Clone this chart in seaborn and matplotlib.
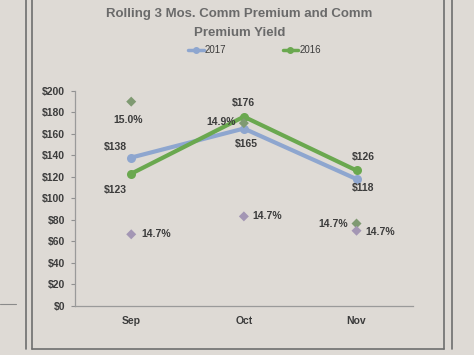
import matplotlib
matplotlib.use("Agg")
import matplotlib.pyplot as plt
from matplotlib.lines import Line2D
import pandas as pd
import seaborn as sns

# chart values
months = ['Sep', 'Oct', 'Nov']
premium_2017 = [138, 165, 118]
premium_2016 = [123, 176, 126]
# yield markers sit on a hidden secondary axis
yield_2016 = [15.07, 15.01, 14.73]
yield_2017 = [14.70, 14.75, 14.71]
yield_2016_labels = ['15.0%', '14.9%', '14.7%']
yield_2017_labels = ['14.7%', '14.7%', '14.7%']
y_ticks = list(range(0, 201, 20))

BG = '#dedad5'
TXT = '#3c3c3c'
BLUE = '#8ea6cf'
GREEN = '#6aa84f'

sns.set_theme(style='white')
plt.rcParams['font.family'] = ['Liberation Sans', 'DejaVu Sans']

df = pd.DataFrame({
    'month': months * 2,
    'premium': premium_2017 + premium_2016,
    'year': ['2017'] * 3 + ['2016'] * 3,
})

fig = plt.figure(figsize=(4.74, 3.55), dpi=100, facecolor=BG)
ax = fig.add_axes([0.158, 0.138, 0.713, 0.606])
ax.set_facecolor(BG)

sns.lineplot(data=df, x='month', y='premium', hue='year', hue_order=['2017', '2016'],
             palette={'2017': BLUE, '2016': GREEN}, marker='o', markersize=6.5,
             markeredgewidth=0, linewidth=3, sort=False, legend=False, ax=ax)

ax.set_xlim(-0.5, 2.5)
ax.set_ylim(0, 200)
ax.set_yticks(y_ticks)
ax.set_yticklabels([f'${v}' for v in y_ticks])
ax.set_xticks([-0.5, 0.5, 1.5, 2.5])
ax.set_xticklabels([])
ax.set_xticks(range(len(months)), minor=True)
ax.set_xticklabels(months, minor=True)
ax.tick_params(axis='x', which='major', direction='inout', length=5, color='#909090', width=0.8)
ax.tick_params(axis='x', which='minor', length=0, pad=7, labelsize=7.5, labelcolor=TXT)
ax.tick_params(axis='y', direction='out', length=3, color='#909090', width=0.8,
               labelsize=7.5, labelcolor=TXT, pad=4)
for lbl in ax.get_xticklabels(minor=True) + ax.get_yticklabels():
    lbl.set_fontweight('bold')
ax.set_xlabel('')
ax.set_ylabel('')
for side in ['top', 'right']:
    ax.spines[side].set_visible(False)
for side in ['left', 'bottom']:
    ax.spines[side].set_color('#9a9a9a')
    ax.spines[side].set_linewidth(0.9)

# premium data labels
prem_offsets_2017 = [(-16, 11), (2, -15), (7, -9)]
prem_offsets_2016 = [(-16, -16), (0, 14), (7, 13)]
for vals, offs in [(premium_2017, prem_offsets_2017), (premium_2016, prem_offsets_2016)]:
    for i, (v, off) in enumerate(zip(vals, offs)):
        ax.annotate(f'${v}', (i, v), xytext=off, textcoords='offset pixels',
                    ha='center', va='center', fontsize=7.5, color=TXT, fontweight='bold')

# yield markers on the secondary axis
ax2 = ax.twinx()
ax2.set_ylim(14.5, 15.1)
ax2.axis('off')
ydf = pd.DataFrame({'month': months * 2, 'yield': yield_2016 + yield_2017,
                    'series': ['2016'] * 3 + ['2017'] * 3})
sns.scatterplot(data=ydf, x='month', y='yield', hue='series',
                palette={'2016': '#7f9a72', '2017': '#a396b4'}, marker='D', s=26,
                linewidth=0, legend=False, ax=ax2)
ax2.set_xlim(-0.5, 2.5)

yld_offsets_2016 = [((-3, -18), 'center'), ((-8, 1), 'right'), ((-9, 0), 'right')]
yld_offsets_2017 = [((10, 0), 'left'), ((9, 0), 'left'), ((9, -1), 'left')]
for vals, labels, offs in [(yield_2016, yield_2016_labels, yld_offsets_2016),
                           (yield_2017, yield_2017_labels, yld_offsets_2017)]:
    for i, (v, t, (off, ha)) in enumerate(zip(vals, labels, offs)):
        ax2.annotate(t, (i, v), xytext=off, textcoords='offset pixels',
                     ha=ha, va='center', fontsize=7.5, color=TXT, fontweight='bold')

fig.text(0.505, 0.960, 'Rolling 3 Mos. Comm Premium and Comm', ha='center', va='center',
         fontsize=9.5, fontweight='bold', color='#6a6a6a')
fig.text(0.505, 0.906, 'Premium Yield', ha='center', va='center',
         fontsize=9.5, fontweight='bold', color='#6a6a6a')

handles = [Line2D([], [], color=BLUE, lw=2.5, marker='o', ms=4),
           Line2D([], [], color=GREEN, lw=2.5, marker='o', ms=4)]
leg = fig.legend(handles, ['2017', '2016'], loc='center', bbox_to_anchor=(0.537, 0.858),
                 ncol=2, frameon=False, fontsize=7, handlelength=1.6, handletextpad=0.1,
                 columnspacing=5.8)
for t in leg.get_texts():
    t.set_color(TXT)

# edges of the printed page
W, H = 474, 355
frame = '#6e6e6e'
for x in [26, 32, 444, 452]:
    fig.add_artist(Line2D([x / W, x / W], [1 - 349 / H, 1], color=frame, lw=1.2))
fig.add_artist(Line2D([32 / W, 444 / W], [1 - 349 / H, 1 - 349 / H], color=frame, lw=1.2))
fig.add_artist(Line2D([0, 16 / W], [1 - 304 / H, 1 - 304 / H], color='#8a8a8a', lw=0.8))

fig.savefig('out.png', dpi=100, facecolor=BG)
